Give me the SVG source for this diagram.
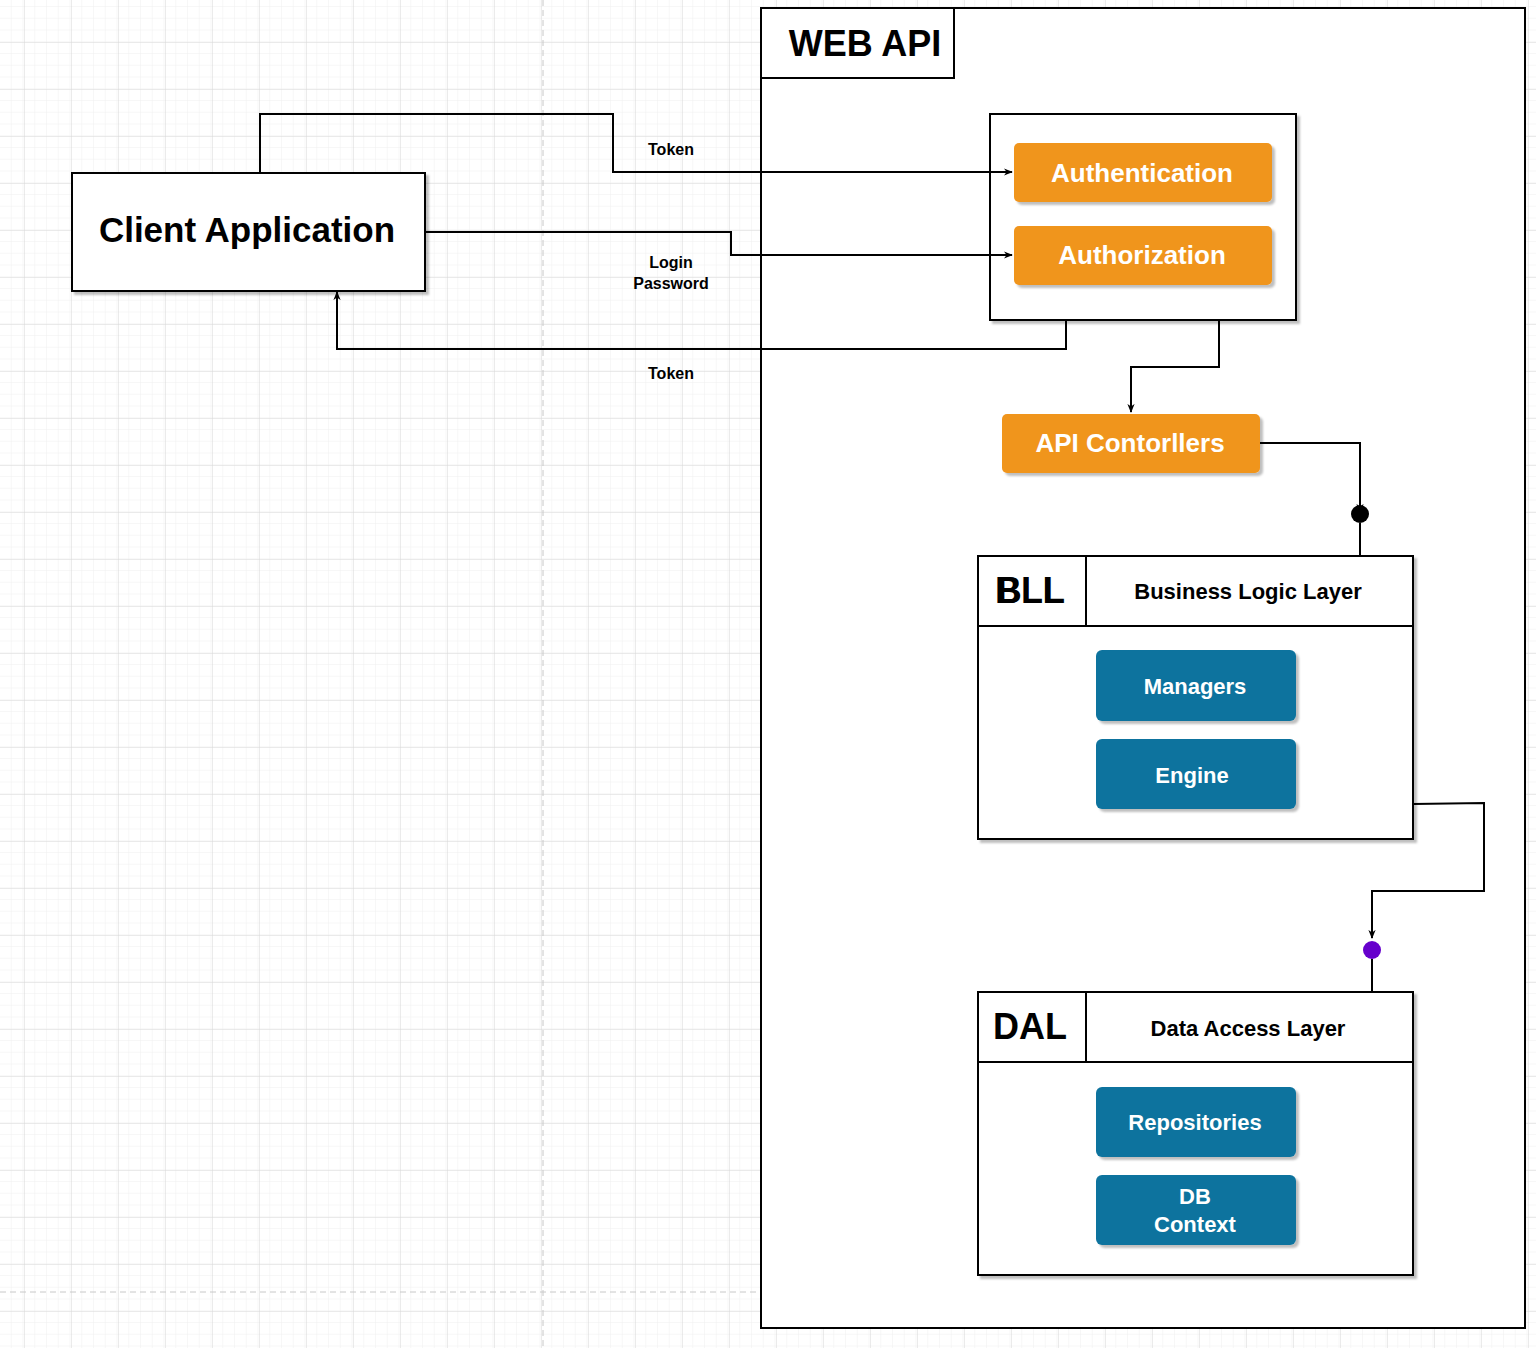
<svg xmlns="http://www.w3.org/2000/svg" width="1536" height="1348" viewBox="0 0 1536 1348">
<defs>
<pattern id="minor" width="11.75" height="11.75" patternUnits="userSpaceOnUse" x="0" y="7"><path d="M11.75 0V11.75M0 11.75H11.75" fill="none" stroke="#efefef" stroke-width="1"/></pattern>
<pattern id="major" width="47" height="47" patternUnits="userSpaceOnUse" x="24" y="42"><path d="M0 0V47M0 0H47" fill="none" stroke="#d8d8d8" stroke-width="1"/></pattern>
<marker id="arr" viewBox="0 0 10 10" refX="9" refY="5" markerWidth="9" markerHeight="9" orient="auto" markerUnits="userSpaceOnUse"><path d="M0 1L10 5L0 9L3 5Z" fill="#000"/></marker>
<filter id="sh"><feDropShadow dx="3" dy="3" stdDeviation="1" flood-color="#000" flood-opacity="0.25"/></filter>
</defs>
<style>
text{font-family:"Liberation Sans",Arial,sans-serif;font-weight:bold;text-anchor:middle}
.box{fill:#fff;stroke:#000;stroke-width:2}
.or{fill:#f0951e;filter:url(#sh)}
.bl{fill:#10739e;filter:url(#sh)}
.wt{fill:#fff;font-size:26px}
.wt2{fill:#fff;font-size:22px}
.c{fill:none;stroke:#000;stroke-width:2}
.lbl{font-size:16px}
</style>
<rect width="1536" height="1348" fill="#fff"/>
<rect width="1536" height="1348" fill="url(#minor)"/>
<rect width="1536" height="1348" fill="url(#major)"/>
<line x1="543" y1="0" x2="543" y2="1348" stroke="#c8c8c8" stroke-dasharray="6 4"/>
<line x1="0" y1="1292" x2="760" y2="1292" stroke="#c8c8c8" stroke-dasharray="6 4"/>
<g id="webapi"><rect class="box" x="761" y="8" width="764" height="1320"/><path class="c" d="M761 78H954V8"/><text x="865" y="56" font-size="36" style="font-weight:bold">WEB API</text></g>
<g id="client"><rect class="box" x="72" y="173" width="353" height="118" style="filter:url(#sh)"/><text x="247" y="242" font-size="35">Client Application</text></g>
<g id="auth"><rect class="box" x="990" y="114" width="306" height="206" style="filter:url(#sh)"/>
<rect class="or" x="1014" y="143" width="258" height="59" rx="5"/><text class="wt" x="1142" y="182">Authentication</text>
<rect class="or" x="1014" y="226" width="258" height="59" rx="5"/><text class="wt" x="1142" y="264">Authorization</text></g>
<g id="apictrl"><rect class="or" x="1002" y="414" width="258" height="59" rx="5"/><text class="wt" x="1130" y="452">API Contorllers</text></g>
<g id="bll"><rect class="box" x="978" y="556" width="435" height="283" style="filter:url(#sh)"/><path class="c" d="M978 626H1413M1086 556V626"/>
<text x="1030" y="603" font-size="36" style="font-weight:normal;fill:#000">BLL</text><text x="1030" y="603" font-size="36">BLL</text>
<text x="1248" y="599" font-size="22">Business  Logic Layer</text>
<rect class="bl" x="1096" y="650" width="200" height="71" rx="6"/><text class="wt2" x="1195" y="694">Managers</text>
<rect class="bl" x="1096" y="739" width="200" height="70" rx="6"/><text class="wt2" x="1192" y="783">Engine</text></g>
<g id="dal"><rect class="box" x="978" y="992" width="435" height="283" style="filter:url(#sh)"/><path class="c" d="M978 1062H1413M1086 992V1062"/>
<text x="1030" y="1039" font-size="36">DAL</text>
<text x="1248" y="1036" font-size="22">Data Access Layer</text>
<rect class="bl" x="1096" y="1087" width="200" height="70" rx="6"/><text class="wt2" x="1195" y="1130">Repositories</text>
<rect class="bl" x="1096" y="1175" width="200" height="70" rx="6"/><text class="wt2" x="1195" y="1204">DB</text><text class="wt2" x="1195" y="1232">Context</text></g>
<g id="connectors">
<path class="c" d="M260 173V114H613V172H1012" marker-end="url(#arr)"/>
<path class="c" d="M425 232H731V255H1012" marker-end="url(#arr)"/>
<path class="c" d="M1066 320V349H337V292" marker-end="url(#arr)"/>
<path class="c" d="M1219 320V367H1131V412" marker-end="url(#arr)"/>
<path class="c" d="M1260 443H1360V512" marker-end="url(#arr)"/>
<circle cx="1360" cy="514" r="9" fill="#000"/><path class="c" d="M1360 523V556"/>
<path class="c" d="M1413 804L1484 803V891H1372V938" marker-end="url(#arr)"/>
<circle cx="1372" cy="950" r="9" fill="#6600cc"/><path class="c" d="M1372 959V992"/>
<text class="lbl" x="671" y="155">Token</text>
<text class="lbl" x="671" y="268">Login</text><text class="lbl" x="671" y="289">Password</text>
<text class="lbl" x="671" y="379">Token</text>
</g>
</svg>
